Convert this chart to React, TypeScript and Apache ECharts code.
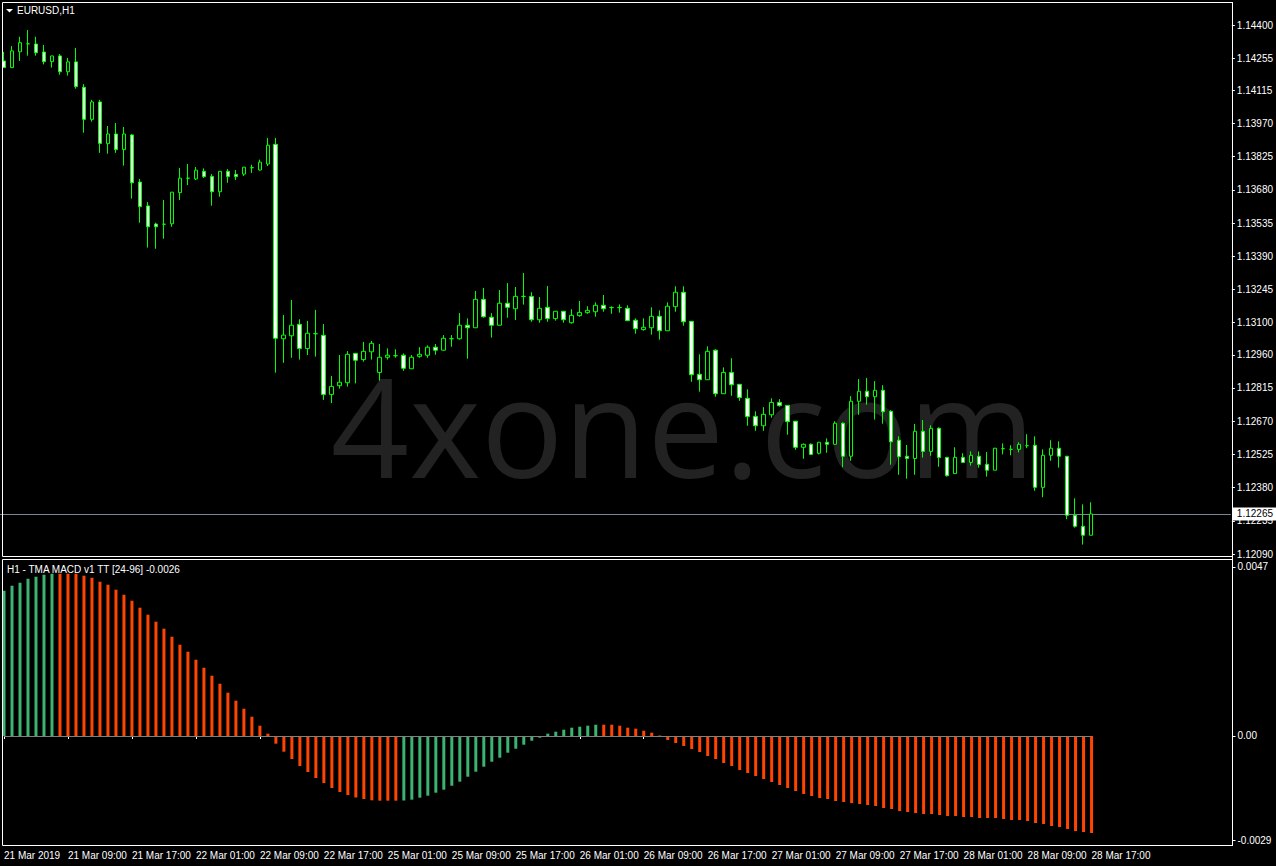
import React, { useEffect, useRef } from 'react';
import * as echarts from 'echarts';

// ---------- data (EURUSD H1, 21 Mar 2019 01:00 .. 28 Mar 2019 17:00) ----------
const OPEN = [
  1.14243, 1.14214, 1.14283, 1.14318, 1.14317, 1.14282, 1.1424, 1.14265, 1.14196, 1.14239,
  1.14128, 1.13988, 1.14064, 1.13882, 1.13924, 1.13856, 1.1392, 1.13714, 1.1361, 1.13531,
  1.1353, 1.13532, 1.13668, 1.13731, 1.13728, 1.13761, 1.13739, 1.13672, 1.13761, 1.13748,
  1.13749, 1.13777, 1.13767, 1.13793, 1.13879, 1.1303, 1.13043, 1.13093, 1.12987, 1.13052,
  1.13045, 1.12787, 1.12825, 1.12838, 1.12966, 1.12939, 1.12973, 1.12883, 1.12949, 1.12956,
  1.12958, 1.12899, 1.12953, 1.12958, 1.12993, 1.1298, 1.1303, 1.1303, 1.13089, 1.13078,
  1.13202, 1.13124, 1.13089, 1.13185, 1.13161, 1.13215, 1.13215, 1.13113, 1.13167, 1.13118,
  1.1315, 1.131, 1.13131, 1.13144, 1.13148, 1.13176, 1.13166, 1.13166, 1.13163, 1.13111,
  1.1307, 1.13078, 1.13128, 1.13065, 1.1317, 1.13233, 1.13106, 1.12875, 1.12851, 1.1298,
  1.1279, 1.12883, 1.12831, 1.1277, 1.12691, 1.1265, 1.12698, 1.12752, 1.12739, 1.1267,
  1.12556, 1.12569, 1.1253, 1.12578, 1.12569, 1.12661, 1.12517, 1.12757, 1.12801, 1.12777,
  1.12805, 1.12713, 1.12587, 1.12517, 1.12507, 1.12626, 1.12538, 1.12639, 1.12512, 1.12441,
  1.12512, 1.1249, 1.12517, 1.12482, 1.12456, 1.1255, 1.12547, 1.12547, 1.12563, 1.12565,
  1.12381, 1.12521, 1.12552, 1.12517, 1.12259, 1.12211, 1.12172,
];
const HIGH = [
  1.14283, 1.14308, 1.14349, 1.14378, 1.14349, 1.14313, 1.14265, 1.14273, 1.14256, 1.143,
  1.14142, 1.14073, 1.14073, 1.13959, 1.13972, 1.13955, 1.13924, 1.13728, 1.13627, 1.13537,
  1.13636, 1.1367, 1.13776, 1.13793, 1.1378, 1.13774, 1.13749, 1.13761, 1.13771, 1.13767,
  1.13779, 1.1379, 1.13812, 1.13907, 1.13907, 1.13134, 1.13199, 1.13115, 1.13108, 1.13156,
  1.13094, 1.12867, 1.12959, 1.12976, 1.12966, 1.13016, 1.1302, 1.13007, 1.12988, 1.12984,
  1.12966, 1.12959, 1.12993, 1.13001, 1.13007, 1.13046, 1.13046, 1.13142, 1.13119, 1.13239,
  1.13252, 1.13142, 1.13243, 1.13273, 1.13256, 1.13317, 1.13233, 1.13212, 1.1326, 1.13151,
  1.1315, 1.13159, 1.13195, 1.13172, 1.13189, 1.13221, 1.13172, 1.1318, 1.13176, 1.13119,
  1.13119, 1.13167, 1.13154, 1.13189, 1.13259, 1.13259, 1.13106, 1.12962, 1.12997, 1.12984,
  1.12905, 1.12945, 1.12831, 1.12809, 1.12713, 1.12731, 1.1277, 1.12766, 1.12739, 1.1267,
  1.12573, 1.12573, 1.12578, 1.12595, 1.1267, 1.12665, 1.12779, 1.12854, 1.12859, 1.12845,
  1.12827, 1.12718, 1.12604, 1.12566, 1.12658, 1.12675, 1.12652, 1.12643, 1.12512, 1.12556,
  1.1253, 1.12538, 1.12538, 1.12535, 1.12553, 1.12573, 1.12565, 1.12578, 1.12613, 1.12604,
  1.12547, 1.12587, 1.12582, 1.12517, 1.12333, 1.12307, 1.12316,
];
const LOW = [
  1.14214, 1.14212, 1.14243, 1.14266, 1.14266, 1.14228, 1.14214, 1.14183, 1.14179, 1.14122,
  1.1393, 1.13978, 1.13842, 1.13838, 1.13842, 1.13786, 1.13642, 1.13537, 1.13428, 1.13423,
  1.13467, 1.13519, 1.13636, 1.13701, 1.13723, 1.13732, 1.13611, 1.1365, 1.13711, 1.13723,
  1.13741, 1.13754, 1.13764, 1.13784, 1.12882, 1.12925, 1.12947, 1.12939, 1.12959, 1.12952,
  1.12763, 1.12749, 1.12812, 1.12821, 1.12835, 1.1293, 1.12939, 1.12847, 1.12939, 1.12947,
  1.1289, 1.12899, 1.12947, 1.12947, 1.1296, 1.12978, 1.12995, 1.13026, 1.12943, 1.13078,
  1.13122, 1.13035, 1.13089, 1.13122, 1.13112, 1.13179, 1.13104, 1.131, 1.13104, 1.13109,
  1.131, 1.13096, 1.13126, 1.13139, 1.13126, 1.13148, 1.13139, 1.13144, 1.13109, 1.13052,
  1.13065, 1.13048, 1.13026, 1.13065, 1.13148, 1.13087, 1.12842, 1.12799, 1.12851, 1.12777,
  1.1279, 1.12781, 1.12759, 1.1265, 1.12628, 1.12628, 1.12685, 1.12733, 1.12611, 1.12545,
  1.12506, 1.12525, 1.12525, 1.12532, 1.12569, 1.12469, 1.12497, 1.12698, 1.12742, 1.12677,
  1.12659, 1.1248, 1.12436, 1.12419, 1.12436, 1.12511, 1.12519, 1.12471, 1.12428, 1.12441,
  1.1249, 1.12476, 1.12467, 1.12428, 1.12456, 1.12525, 1.12521, 1.12534, 1.12552, 1.12366,
  1.12338, 1.12497, 1.12467, 1.12242, 1.12205, 1.12131, 1.12172,
];
const CLOSE = [
  1.14214, 1.14287, 1.14323, 1.14318, 1.14279, 1.1424, 1.14265, 1.14196, 1.14239, 1.14131,
  1.13988, 1.14064, 1.13883, 1.13924, 1.13856, 1.13924, 1.13711, 1.13607, 1.13519, 1.13519,
  1.1353, 1.1367, 1.13731, 1.13731, 1.13766, 1.13738, 1.13672, 1.13761, 1.13738, 1.13738,
  1.13779, 1.13777, 1.13801, 1.13875, 1.13032, 1.13046, 1.13089, 1.12987, 1.13054, 1.13052,
  1.12787, 1.12822, 1.1284, 1.12962, 1.12936, 1.12975, 1.1301, 1.12949, 1.12958, 1.12956,
  1.12901, 1.12949, 1.12962, 1.12993, 1.1298, 1.13032, 1.1303, 1.13089, 1.13078, 1.13202,
  1.13126, 1.13089, 1.13185, 1.13167, 1.13215, 1.13215, 1.13113, 1.13163, 1.13118, 1.1315,
  1.13113, 1.13132, 1.13145, 1.13154, 1.13176, 1.13161, 1.13166, 1.13166, 1.13109, 1.13074,
  1.1308, 1.13128, 1.13065, 1.13172, 1.13233, 1.13104, 1.12873, 1.12851, 1.12975, 1.1279,
  1.12883, 1.12829, 1.12773, 1.1269, 1.1265, 1.127, 1.12752, 1.12738, 1.12668, 1.12556,
  1.12569, 1.12525, 1.12578, 1.12569, 1.12661, 1.12517, 1.12757, 1.12801, 1.12777, 1.12805,
  1.12711, 1.1258, 1.12515, 1.12507, 1.12626, 1.12538, 1.12639, 1.12511, 1.12432, 1.12512,
  1.1249, 1.12521, 1.12481, 1.12456, 1.12552, 1.1255, 1.12547, 1.12569, 1.12563, 1.12381,
  1.12521, 1.12552, 1.12517, 1.12259, 1.12211, 1.12172, 1.12265,
];
// TMA MACD histogram
const MACD = [
  0.004036, 0.004175, 0.004258, 0.004369, 0.004425, 0.004481, 0.004508, 0.004508, 0.004508, 0.004508,
  0.004453, 0.004397, 0.004286, 0.004203, 0.004064, 0.003925, 0.003758, 0.003564, 0.003369, 0.003175,
  0.002981, 0.002758, 0.002536, 0.002342, 0.002119, 0.001897, 0.001675, 0.001453, 0.001203, 0.000981,
  0.000758, 0.000536, 0.000286, 0.000064, -0.000214, -0.000436, -0.000639, -0.000833, -0.001, -0.001167,
  -0.001306, -0.001444, -0.001556, -0.001639, -0.001708, -0.00175, -0.001786, -0.001797, -0.001797, -0.001797,
  -0.001792, -0.001769, -0.001714, -0.001658, -0.001575, -0.001492, -0.001381, -0.001269, -0.001131, -0.000992,
  -0.000853, -0.000714, -0.000603, -0.000464, -0.000353, -0.000242, -0.000131, -0.000047, 0.000064, 0.000119,
  0.000175, 0.000231, 0.000258, 0.000286, 0.000314, 0.000314, 0.000314, 0.000286, 0.000231, 0.000203,
  0.000147, 0.000092, 0.000014, -0.000111, -0.000194, -0.000278, -0.000361, -0.000444, -0.000556, -0.000639,
  -0.00075, -0.000833, -0.000944, -0.001028, -0.001111, -0.001194, -0.001278, -0.001361, -0.001444, -0.001528,
  -0.001611, -0.001667, -0.001722, -0.00175, -0.001806, -0.001833, -0.001861, -0.001889, -0.001917, -0.001944,
  -0.002, -0.002028, -0.002083, -0.002111, -0.002139, -0.002167, -0.002167, -0.002194, -0.002222, -0.002222,
  -0.00225, -0.00225, -0.002278, -0.002278, -0.002278, -0.002306, -0.002333, -0.002333, -0.002361, -0.002417,
  -0.002444, -0.0025, -0.002528, -0.002583, -0.002639, -0.002667, -0.002694,
];

const PRICE_LABELS = [
  1.144, 1.14255, 1.14115, 1.1397, 1.13825, 1.1368, 1.13535, 1.1339, 1.13245,
  1.131, 1.1296, 1.12815, 1.1267, 1.12525, 1.1238, 1.12235, 1.1209,
];
const MACD_LABELS = [0.0047, 0, -0.0029];
const BID = 1.12265;
const PRICE_MIN = 1.120813;
const PRICE_MAX = 1.145005;
const MACD_MIN = -0.003028;
const MACD_MAX = 0.004917;
const SYMBOL_TITLE = 'EURUSD,H1';
const SUB_TITLE = 'H1 - TMA MACD v1 TT [24-96] -0.0026';
const FIRST_LABEL = '21 Mar 2019';
const WATERMARK = '4xone.com';
const START_UTC = Date.UTC(2019, 2, 21, 1);
const EMPTY_SLOTS = 17;
const LABEL_EVERY = 8;

// ---------- styling ----------
const FONT = "'Liberation Sans', Arial, sans-serif";
const FS = 10;
const GREEN = '#3CB371';
const ORANGE = '#FF4500';
const LIME = '#00FF00';
const W = 1276;
const H = 866;

const MONTHS = ['Jan', 'Feb', 'Mar', 'Apr', 'May', 'Jun', 'Jul', 'Aug', 'Sep', 'Oct', 'Nov', 'Dec'];
function buildTimes(n: number): string[] {
  const out: string[] = [];
  let t = START_UTC;
  while (out.length < n) {
    const d = new Date(t);
    const wd = d.getUTCDay();
    if (wd !== 0 && wd !== 6) {
      const hh = String(d.getUTCHours()).padStart(2, '0');
      out.push(`${d.getUTCDate()} ${MONTHS[d.getUTCMonth()]} ${hh}:00`);
    }
    t += 3600000;
  }
  return out;
}

function buildOption() {
  const n = CLOSE.length;
  const total = n + EMPTY_SLOTS;
  const times = buildTimes(n);
  const categories = times.concat(Array.from({ length: EMPTY_SLOTS }, (_, i) => `+${i + 1}`));
  const candles = OPEN.map((o, i) => [o, CLOSE[i], LOW[i], HIGH[i]]);
  const hist = MACD.map((v, i) => ({
    value: v,
    itemStyle: { color: i === 0 || v > MACD[i - 1] ? GREEN : ORANGE },
  }));
  const tickFn = (idx: number) => idx % LABEL_EVERY === 0 && idx < n;
  const gridW = total * 8;

  return {
    animation: false,
    backgroundColor: '#000000',
    textStyle: { fontFamily: FONT },
    grid: [
      { left: -0.5, top: 2, width: gridW, height: 554, show: false },
      { left: -0.5, top: 559, width: gridW, height: 286, show: false },
    ],
    xAxis: [
      {
        type: 'category', gridIndex: 0, data: categories, boundaryGap: true,
        axisLine: { show: false }, axisTick: { show: false }, axisLabel: { show: false },
        splitLine: { show: false },
      },
      {
        type: 'category', gridIndex: 1, data: categories, boundaryGap: true,
        axisLine: { show: false },
        axisTick: { show: true, alignWithLabel: true, interval: tickFn, length: 3, lineStyle: { color: '#ffffff' } },
        axisLabel: {
          show: true, interval: tickFn, color: '#ffffff', fontFamily: FONT, fontSize: FS,
          align: 'left', margin: 5,
          formatter: (v: string, idx: number) => (idx === 0 ? FIRST_LABEL : v),
        },
        splitLine: { show: false },
      },
    ],
    yAxis: [
      {
        type: 'value', gridIndex: 0, position: 'right', offset: 1, min: PRICE_MIN, max: PRICE_MAX,
        splitLine: { show: false }, axisLine: { show: false },
        axisTick: { show: true, customValues: PRICE_LABELS, length: 3, lineStyle: { color: '#ffffff' } },
        axisLabel: {
          show: true, customValues: PRICE_LABELS, color: '#ffffff', fontFamily: FONT, fontSize: FS, margin: 5,
          formatter: (v: number) => v.toFixed(5),
        },
      },
      {
        type: 'value', gridIndex: 1, position: 'right', offset: 1, min: MACD_MIN, max: MACD_MAX,
        splitLine: { show: false }, axisLine: { show: false },
        axisTick: { show: true, customValues: MACD_LABELS, length: 3, lineStyle: { color: '#ffffff' } },
        axisLabel: {
          show: true, customValues: MACD_LABELS, color: '#ffffff', fontFamily: FONT, fontSize: FS, margin: 5,
          formatter: (v: number) => (v === 0 ? '0.00' : v.toFixed(4)),
        },
      },
    ],
    series: [
      {
        type: 'candlestick', name: 'EURUSD', xAxisIndex: 0, yAxisIndex: 0, data: candles,
        barWidth: 4, z: 3,
        itemStyle: {
          color: '#000000', color0: '#ffffff', borderColor: LIME, borderColor0: LIME,
          borderColorDoji: LIME, borderWidth: 1,
        },
        markLine: {
          silent: true, symbol: 'none', animation: false, precision: 5, z: 1,
          lineStyle: { color: '#778899', type: 'solid', width: 1 },
          label: {
            show: true, position: 'end', formatter: BID.toFixed(5), color: '#000000',
            backgroundColor: '#ffffff', fontFamily: FONT, fontSize: FS, padding: [2, 5, 1, 4], distance: 2,
          },
          data: [{ yAxis: BID }],
        },
      },
      {
        type: 'bar', name: 'TMA MACD', xAxisIndex: 1, yAxisIndex: 1, data: hist, barWidth: 3, z: 3,
        markLine: {
          silent: true, symbol: 'none', animation: false, precision: 6,
          lineStyle: { color: '#808080', type: 'solid', width: 1 },
          label: { show: false },
          data: [[{ coord: [0, 0] }, { coord: [n - 1, 0] }]],
        },
      },
    ],
    graphic: [
      {
        type: 'text', z: 0, silent: true,
        style: {
          x: 683, y: 425, text: WATERMARK, fill: '#222222',
          font: "137px 'Open Sans', 'DejaVu Sans', sans-serif", textAlign: 'center', textVerticalAlign: 'middle',
        },
      },
      {
        type: 'rect', z: 10, silent: true,
        shape: { x: 2.5, y: 2.5, width: 1230, height: 554 },
        style: { fill: 'none', stroke: '#ffffff', lineWidth: 1 },
      },
      {
        type: 'rect', z: 10, silent: true,
        shape: { x: 2.5, y: 559.5, width: 1230, height: 286 },
        style: { fill: 'none', stroke: '#ffffff', lineWidth: 1 },
      },
      {
        type: 'line', z: 10, silent: true,
        shape: { x1: 1232.5, y1: 2, x2: 1232.5, y2: 846 },
        style: { stroke: '#ffffff', lineWidth: 1 },
      },
      {
        type: 'polygon', z: 10, silent: true,
        shape: { points: [[6, 9], [13, 9], [9.5, 12.5]] },
        style: { fill: '#ffffff' },
      },
      {
        type: 'text', z: 10, silent: true,
        style: { x: 17, y: 10.5, text: SYMBOL_TITLE, fill: '#ffffff', font: `${FS}px ${FONT}`, textVerticalAlign: 'middle' },
      },
      {
        type: 'text', z: 10, silent: true,
        style: { x: 7, y: 569, text: SUB_TITLE, fill: '#ffffff', font: `${FS}px ${FONT}`, textVerticalAlign: 'middle' },
      },
    ],
  };
}

export default function App() {
  const ref = useRef<HTMLDivElement>(null);
  useEffect(() => {
    document.body.style.margin = '0';
    document.body.style.background = '#000000';
    const chart = echarts.init(ref.current as HTMLDivElement, null, { renderer: 'svg' });
    chart.setOption(buildOption() as any);
    return () => chart.dispose();
  }, []);
  return <div ref={ref} style={{ width: W, height: H, background: '#000000' }} />;
}
